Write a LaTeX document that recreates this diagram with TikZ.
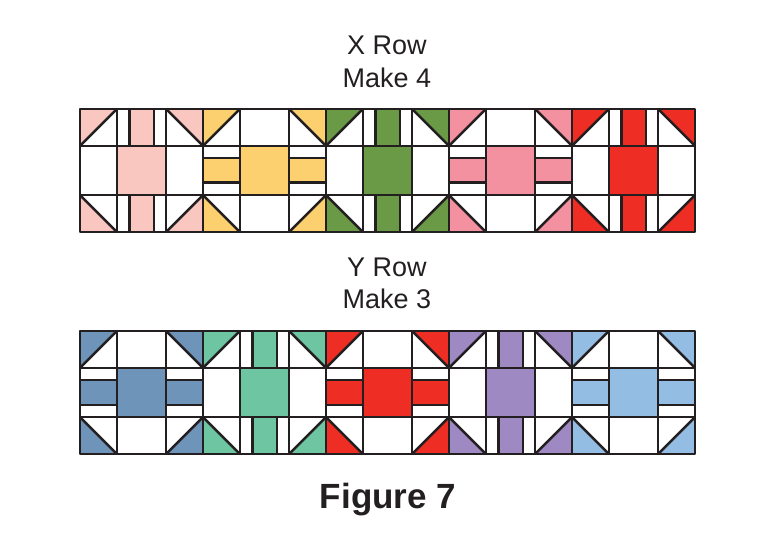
\documentclass[tikz,border=0pt]{standalone}
\usepackage{fontspec}
\setmainfont{Liberation Sans}
\definecolor{qpink}{HTML}{F9C6C0}
\definecolor{qyellow}{HTML}{FDD06F}
\definecolor{qgreen}{HTML}{6A9A45}
\definecolor{qrose}{HTML}{F391A0}
\definecolor{qred}{HTML}{EE2E24}
\definecolor{qblue}{HTML}{6F94BA}
\definecolor{qteal}{HTML}{6DC6A1}
\definecolor{qpurple}{HTML}{9E89C2}
\definecolor{qsky}{HTML}{94BDE4}
\definecolor{qline}{HTML}{231F20}
% one quilt block, unit square; #4 = rotation (0 or 90)
\newcommand{\quiltblock}[4]{%
  \begin{scope}[shift={(#1,#2)},scale=123,rotate around={#4:(0.5,0.5)}]
    \fill[white] (0,0) rectangle (1,1);
    \fill[#3] (0.3,0.3) rectangle (0.7,0.7);
    \fill[#3] (0.4,0.7) rectangle (0.6,1);
    \fill[#3] (0.4,0) rectangle (0.6,0.3);
    \fill[#3] (0,0.7) -- (0,1) -- (0.3,1) -- cycle;
    \fill[#3] (0.7,1) -- (1,1) -- (1,0.7) -- cycle;
    \fill[#3] (0,0) -- (0,0.3) -- (0.3,0) -- cycle;
    \fill[#3] (1,0) -- (1,0.3) -- (0.7,0) -- cycle;
    \draw[seam] (0,0.7) -- (0.3,1) (0.7,1) -- (1,0.7)
      (0,0.3) -- (0.3,0) (0.7,0) -- (1,0.3);
    \draw[seam] (0.3,0) -- (0.3,1) (0.7,0) -- (0.7,1)
      (0,0.3) -- (1,0.3) (0,0.7) -- (1,0.7);
    \draw[seam] (0.4,0.7) -- (0.4,1) (0.6,0.7) -- (0.6,1)
      (0.4,0) -- (0.4,0.3) (0.6,0) -- (0.6,0.3);
    \draw[seam] (0,0) rectangle (1,1);
  \end{scope}}
\begin{document}
\begin{tikzpicture}[x=1pt,y=1pt,seam/.style={draw=qline,line width=2.6pt,line join=round},
    label/.style={font=\fontsize{27}{32}\selectfont,text=qline}]
  \useasboundingbox (0,0) rectangle (768,544);
  \node[label] (xrow) at (387,499) {X Row};
  \node[label] (xmake) at (387,466) {Make 4};
  \node[label] (yrow) at (387,277) {Y Row};
  \node[label] (ymake) at (387,245) {Make 3};
  \node[font=\fontsize{35}{42}\selectfont\bfseries,text=qline] (fig) at (388,44) {Figure 7};
  % X row
  \foreach \i/\c/\r in {0/qpink/0,1/qyellow/90,2/qgreen/0,3/qrose/90,4/qred/0}
    \quiltblock{80+123*\i}{312}{\c}{\r};
  % Y row
  \foreach \i/\c/\r in {0/qblue/90,1/qteal/0,2/qred/90,3/qpurple/0,4/qsky/90}
    \quiltblock{80+123*\i}{90}{\c}{\r};
\end{tikzpicture}
\end{document}
